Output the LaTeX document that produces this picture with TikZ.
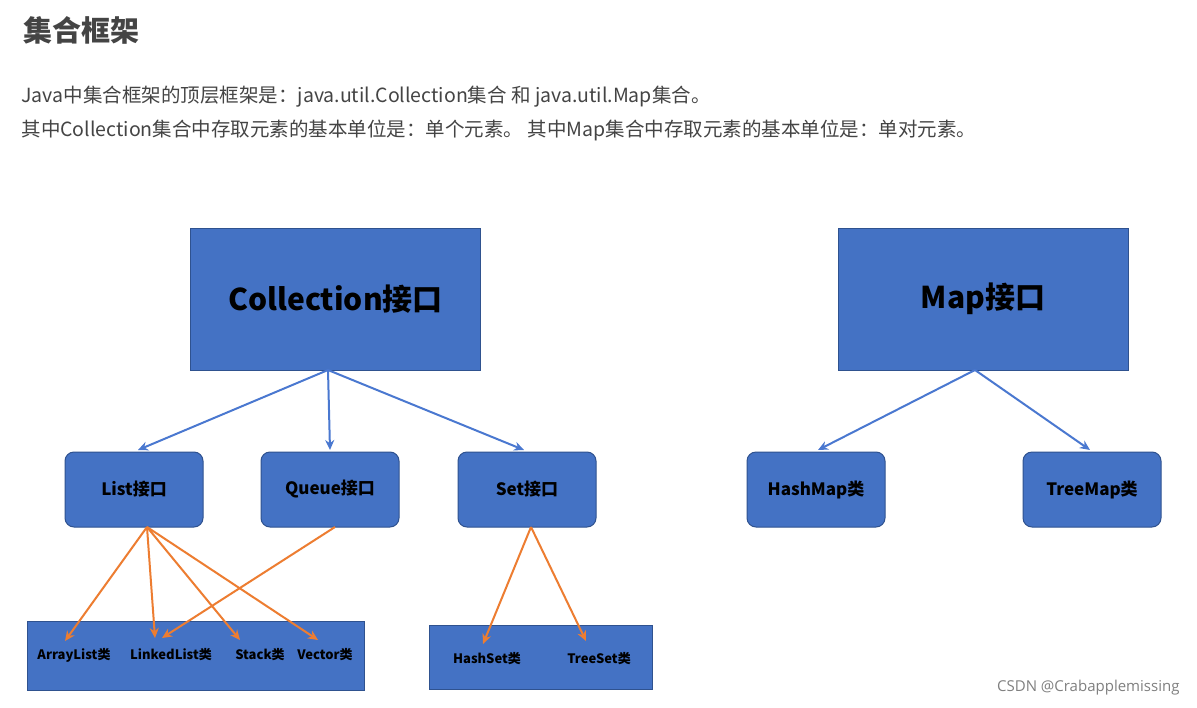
\documentclass[tikz,border=0pt]{standalone}
\usepackage{fontspec}
\setmainfont{Open Sans}
\newfontfamily\cjk{Noto Sans CJK SC}
\usetikzlibrary{arrows.meta}
\definecolor{boxblue}{HTML}{4472C4}
\definecolor{boxedge}{HTML}{2F528F}
\definecolor{arrblue}{HTML}{4A78D0}
\definecolor{arrorange}{HTML}{ED7D31}
\definecolor{txtgray}{HTML}{444444}
\begin{document}
\begin{tikzpicture}[x=1pt,y=-1pt,
  bigbox/.style={draw=boxedge,fill=boxblue,line width=1pt,minimum width=290pt,minimum height=142pt,font=\cjk\bfseries\fontsize{30}{34}\selectfont,text=black},
  midbox/.style={draw=boxedge,fill=boxblue,line width=1pt,rounded corners=9pt,minimum width=138pt,minimum height=75pt,font=\cjk\bfseries\fontsize{17}{20}\selectfont,text=black},
  leafbox/.style={draw=boxedge,fill=boxblue,line width=1pt,anchor=north west},
  leaf/.style={font=\cjk\bfseries\fontsize{13}{15}\selectfont,text=black},
  barr/.style={draw=arrblue,line width=2pt,-{Stealth[length=10pt,width=9pt]}},
  oarr/.style={draw=arrorange,line width=2pt,-{Stealth[length=10pt,width=9pt]}}]
\useasboundingbox (0,0) rectangle (1197,707);
\fill[white] (0,0) rectangle (1197,707);
\node[anchor=west,font=\cjk\bfseries\fontsize{29}{32}\selectfont,text=txtgray] (title) at (20,30) {集合框架};
\node[anchor=west,font=\cjk\fontsize{19.5}{22}\selectfont,text=txtgray] (l1) at (18,97) {Java中集合框架的顶层框架是：java.util.Collection集合 和 java.util.Map集合。};
\node[anchor=west,font=\cjk\fontsize{19.5}{22}\selectfont,text=txtgray] (l2) at (18,130) {其中Collection集合中存取元素的基本单位是：单个元素。 其中Map集合中存取元素的基本单位是：单对元素。};
\node[bigbox] (coll) at (335.5,299) {Collection接口};
\node[bigbox] (map) at (983,299) {Map接口};
\node[midbox] (list) at (134,489.5) {List接口};
\node[midbox] (queue) at (330,489.5) {Queue接口};
\node[midbox] (set) at (527,489.5) {Set接口};
\node[midbox] (hm) at (816,489.5) {HashMap类};
\node[midbox] (tm) at (1092,489.5) {TreeMap类};
\node[leafbox,minimum width=337pt,minimum height=69pt] (b1) at (27,621) {};
\node[leafbox,minimum width=223pt,minimum height=64pt] (b2) at (429,625) {};
\node[leaf] (al) at (74,655) {ArrayList类};
\node[leaf] (ll) at (171,655) {LinkedList类};
\node[leaf] (st) at (260,655) {Stack类};
\node[leaf] (ve) at (325,655) {Vector类};
\node[leaf] (hs) at (487,659) {HashSet类};
\node[leaf] (ts) at (599,659) {TreeSet类};
\coordinate (cs) at (328,370);
\coordinate (ms) at (975,370);
\draw[barr] (cs) -- (138,450);
\draw[barr] (cs) -- (330,450);
\draw[barr] (cs) -- (524,450);
\draw[barr] (ms) -- (818,450);
\draw[barr] (ms) -- (1090,450);
\coordinate (ls) at (147,527);
\coordinate (qs) at (335,527);
\coordinate (ss) at (531,527);
\draw[oarr] (ls) -- (65,641);
\draw[oarr] (ls) -- (155,638);
\draw[oarr] (ls) -- (240,640);
\draw[oarr] (ls) -- (318,640);
\draw[oarr] (qs) -- (162,638);
\draw[oarr] (ss) -- (483,644);
\draw[oarr] (ss) -- (586,641);
\node[anchor=east,font=\fontsize{15}{17}\selectfont,text=gray] (wm) at (1183,688) {CSDN @Crabapplemissing};
\end{tikzpicture}
\end{document}
